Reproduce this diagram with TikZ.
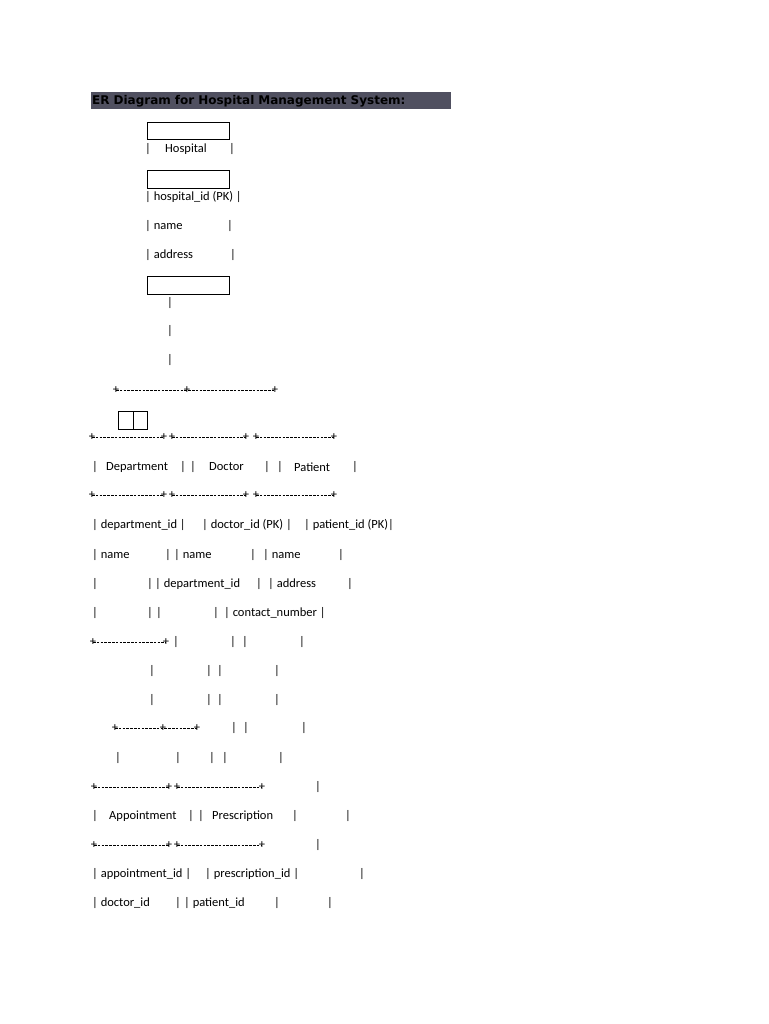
\documentclass[tikz,border=0pt]{standalone}
\usepackage{fontspec}
\setmainfont{Carlito}
\newfontfamily\titlefont{DejaVu Sans}
\definecolor{hl}{RGB}{80,80,96}
\tikzset{x=1pt,y=-1pt,
 txt/.style={anchor=west,inner sep=0pt,font=\fontsize{12.5}{14}\selectfont},
 pl/.style={inner sep=0pt,font=\fontsize{12.5}{14}\selectfont},
 dashrule/.style={line width=0.5pt,dash pattern=on 2.6pt off 1.2pt},
 bx/.style={draw,line width=0.8pt}}
\newcommand\tx[3]{\node[txt] at (#1,#2) {#3};}
\newcommand\pp[2]{\node[pl] at (#1,#2) {+};}
\newcommand\rl[3]{\draw[dashrule] (#1,#3) -- (#2,#3); \pp{#1}{#3}\pp{#2}{#3}}
\begin{document}
\begin{tikzpicture}
\useasboundingbox (0,0) rectangle (768,1024);
\fill[white] (0,0) rectangle (768,1024);
\node[fill=hl,anchor=west,inner sep=1pt,minimum height=17pt,text width=358pt,font=\titlefont\bfseries\fontsize{12}{14}\selectfont] (title) at (91,101) {ER Diagram for Hospital Management System:};
% Hospital
\draw[bx] (147,122) rectangle (229,139);
\tx{145}{149}{|} \tx{165}{149}{Hospital} \tx{229}{149}{|}
\draw[bx] (147,170) rectangle (229,188);
\tx{145}{197}{| hospital\_id (PK) |}
\tx{145}{226}{| name} \tx{227}{226}{|}
\tx{145}{255}{| address} \tx{230}{255}{|}
\draw[bx] (147,276) rectangle (229,294);
\foreach \y in {303,331,360} {\tx{167}{\y}{|}}
\rl{116}{275}{390} \pp{187}{390}
\draw[bx] (118,411) rectangle (147,429); \draw[bx] (133,411) -- (133,429);
% Dept/Doctor/Patient
\foreach \y in {437,495} {\rl{92}{164}{\y} \rl{172}{246}{\y} \rl{256}{334}{\y}}
\tx{92}{467}{|} \tx{106}{467}{Department} \tx{180}{467}{|} \tx{190}{467}{|} \tx{209}{467}{Doctor} \tx{264}{467}{|} \tx{277}{467}{|} \tx{294}{467}{Patient} \tx{352}{467}{|}
\tx{92}{525}{| department\_id |} \tx{202}{525}{| doctor\_id (PK) |} \tx{304}{525}{| patient\_id (PK)|}
\tx{92}{555}{| name} \tx{165}{555}{|} \tx{174}{555}{| name} \tx{250}{555}{|} \tx{263}{555}{| name} \tx{338}{555}{|}
\tx{92}{584}{|} \tx{147}{584}{|} \tx{155}{584}{| department\_id} \tx{256}{584}{|} \tx{268}{584}{| address} \tx{347}{584}{|}
\tx{92}{613}{|} \tx{147}{613}{|} \tx{156}{613}{|} \tx{213}{613}{|} \tx{224}{613}{| contact\_number |}
\rl{93}{166}{642} \tx{173}{642}{|} \tx{230}{642}{|} \tx{242}{642}{|} \tx{299}{642}{|}
\foreach \y in {671,700} {\tx{149}{\y}{|} \tx{206}{\y}{|} \tx{217}{\y}{|} \tx{274}{\y}{|}}
\rl{115}{197}{728} \pp{163}{728} \tx{231}{728}{|} \tx{243}{728}{|} \tx{301}{728}{|}
\tx{115}{758}{|} \tx{175}{758}{|} \tx{209}{758}{|} \tx{222}{758}{|} \tx{278}{758}{|}
% Appointment / Prescription
\foreach \y in {787,845} {\rl{94}{169}{\y} \rl{177}{262}{\y} \tx{315}{\y}{|}}
\tx{92}{816}{|} \tx{109}{816}{Appointment} \tx{188}{816}{|} \tx{198}{816}{|} \tx{212}{816}{Prescription} \tx{292}{816}{|} \tx{345}{816}{|}
\tx{92}{874}{| appointment\_id |} \tx{205}{874}{| prescription\_id |} \tx{359}{874}{|}
\tx{92}{903}{| doctor\_id} \tx{175}{903}{|} \tx{184}{903}{| patient\_id} \tx{274}{903}{|} \tx{327}{903}{|}
\end{tikzpicture}
\end{document}
